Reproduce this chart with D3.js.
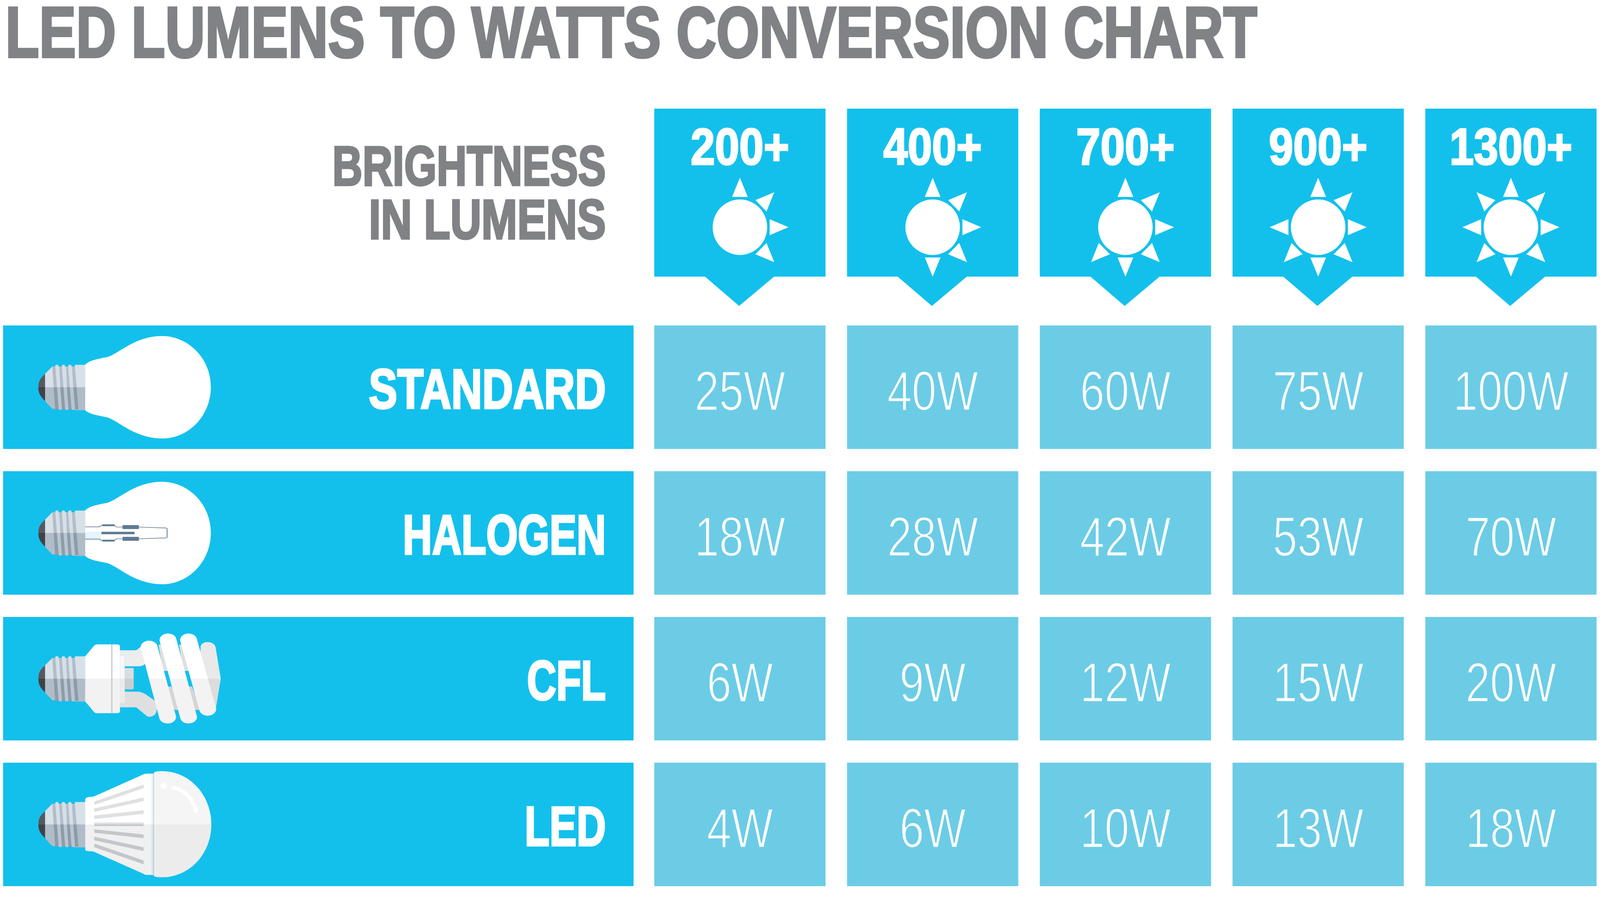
<!DOCTYPE html>
<html>
<head>
<meta charset="utf-8">
<script src="https://cdn.jsdelivr.net/npm/d3@7"></script>
<style>
	html, body { margin: 0; padding: 0; background: #fff; overflow: hidden; }
	svg { display: block; width: 100vw; height: 100vh; }
	.bold { font-family: "Liberation Sans", Arial, sans-serif; font-weight: 700; }
	.light { font-family: "Liberation Sans", Arial, sans-serif; font-weight: 400; }
</style>
</head>
<body>
<svg id="chart" viewBox="0 0 4167 2306" preserveAspectRatio="none"></svg>
<script>
var lumens = ['200+', '400+', '700+', '900+', '1300+']
var sunRays = [4, 5, 6, 7, 8]
var bulbTypes = ['STANDARD', 'HALOGEN', 'CFL', 'LED']
var standardWatts = [25, 40, 60, 75, 100]
var halogenWatts = [18, 28, 42, 53, 70]
var cflWatts = [6, 9, 12, 15, 20]
var ledWatts = [4, 6, 10, 13, 18]
var titleText = 'LED LUMENS TO WATTS CONVERSION CHART'
var axisLines = ['BRIGHTNESS', 'IN LUMENS']

var wattRows = [standardWatts, halogenWatts, cflWatts, ledWatts]

var SKY = '#13c0ec'
var CELL = '#6ccce6'
var GREY = '#808285'

var svg = d3.select('#chart')

var x = d3.scaleBand().domain(lumens).range([1704, 4158]).paddingInner(56 / 502)
var y = d3.scaleBand().domain(bulbTypes).range([833, 2268]).paddingInner(57 / 373)

var defs = svg.append('defs')
defs.append('clipPath').attr('id', 'topHalf').append('rect')
	.attr('x', 0).attr('y', -1000).attr('width', 2000).attr('height', 1000)
defs.append('clipPath').attr('id', 'bottomHalf').append('rect')
	.attr('x', 0).attr('y', 0).attr('width', 2000).attr('height', 1000)

// Condensed text: squeeze the normal font sideways so it is as wide as wanted
function squeezed(parent, txt, cls, size, fill, px, py, anchor, sx, outline) {
	return parent.append('text')
		.attr('class', cls)
		.attr('transform', 'translate(' + px + ',' + py + ') scale(' + sx + ',1)')
		.attr('text-anchor', anchor)
		.attr('font-size', size)
		.attr('fill', fill)
		.attr('stroke', fill)
		.attr('stroke-width', outline)
		.text(txt)
}

// --- Title & header --------------------------------------------------------- //

squeezed(svg, titleText, 'bold', 184, GREY, 14, 146, 'start', 0.783, 6)

axisLines.forEach(function(line, i) {
	squeezed(svg, line, 'bold', 143, GREY, 1578, [474, 611][i], 'end', [0.76, 0.785][i], 5)
})

lumens.forEach(function(l, i) {
	var cx = x(l) + x.bandwidth() / 2
	var left = x(l), right = x(l) + x.bandwidth()
	svg.append('path')
		.attr('d', 'M' + left + ',278 H' + right + ' V708 H' + (cx + 89) + ' L' + (cx - 2) + ',783 L' + (cx - 91) + ',708 H' + left + ' Z')
		.attr('fill', SKY)

	squeezed(svg, l, 'bold', 131, '#fff', cx, 421, 'middle', 0.87, 4)

	var sun = svg.append('g').attr('transform', 'translate(' + cx + ',581.5)')
	sun.append('circle').attr('r', 71).attr('fill', '#fff')
	d3.range(sunRays[i]).forEach(function(k) {
		sun.append('path')
			.attr('d', 'M0,-126.5 L20.5,-77.5 H-20.5 Z')
			.attr('transform', 'rotate(' + (k * 45) + ')')
			.attr('fill', '#fff')
	})
})

// --- Table ------------------------------------------------------------------ //

var labelRight = 1578
var labelSqueeze = [0.78, 0.74, 0.74, 0.74]

bulbTypes.forEach(function(type, r) {
	svg.append('rect')
		.attr('x', 8).attr('y', y(type))
		.attr('width', 1642).attr('height', y.bandwidth())
		.attr('fill', SKY)

	var mid = y(type) + y.bandwidth() / 2
	squeezed(svg, type, 'bold', 143, '#fff', labelRight, mid + 54, 'end', labelSqueeze[r], 5)

	lumens.forEach(function(l, c) {
		svg.append('rect')
			.attr('x', x(l)).attr('y', y(type))
			.attr('width', x.bandwidth()).attr('height', y.bandwidth())
			.attr('fill', CELL)
		// no light cut of the font here: thin it with an outline in the cell colour
		squeezed(svg, wattRows[r][c] + 'W', 'light', 142, '#fff', x(l) + x.bandwidth() / 2, mid + 59, 'middle', 0.81, 3)
			.attr('stroke', CELL)
	})

	// icons are sketched in zoomed units, with 0 on the seam of the row
	var icon = svg.append('g').attr('transform', 'translate(0,' + mid + ') scale(0.4464,0.3333)')
	if (type == 'STANDARD') { drawRoundBulb(icon) }
	if (type == 'HALOGEN') { drawRoundBulb(icon); drawFilament(icon) }
	if (type == 'CFL') { drawCfl(icon) }
	if (type == 'LED') { drawLed(icon) }
	drawScrewBase(icon)
})

// --- Bulb icons ------------------------------------------------------------- //

// Everything on the bulbs has a lit upper half and a darker lower half
function halves(g, draw) {
	[0, 1].forEach(function(i) {
		var half = g.append('g').attr('clip-path', i == 0 ? 'url(#topHalf)' : 'url(#bottomHalf)')
		draw(half, i)
	})
}

function shape(g, d, fill) {
	return g.append('path').attr('d', d).attr('fill', fill)
}

function drawScrewBase(g) {
	halves(g, function(h, i) {
		shape(h, 'M263,-103 C240,-75 224,-50 224,-10 V10 C224,50 240,75 263,107 L270,0 Z', ['#56595f', '#3f4348'][i])
		shape(h, 'M263,-103 L305,-158 H437 V-172 H497 V176 H437 V166 H305 L263,107 Z', ['#d8e1e8', '#b0bdc9'][i])
		var dark = ['#b3bdc9', '#8e9ba8'][i]
		shape(h, 'M305,-158 H325 L342,170 H322 Z', dark)
		shape(h, 'M345,-158 H362 L380,170 H360 Z', dark)
		shape(h, 'M385,-158 H398 L417,170 H397 Z', dark)
		shape(h, 'M420,-158 H437 L458,170 H432 Z', dark)
		;[[332, 352], [370, 390], [408, 428]].forEach(function(t) {
			h.append('line')
				.attr('x1', t[0]).attr('y1', -163).attr('x2', t[1]).attr('y2', 165)
				.attr('stroke', ['#d6dfe7', '#b9c6d2'][i])
				.attr('stroke-width', 19)
				.attr('stroke-linecap', 'round')
		})
	})
}

function drawRoundBulb(g) {
	shape(g, 'M497,-173 C520,-205 560,-215 625,-231 C660,-245 700,-285 740,-313 C800,-360 870,-393 945,-393 C1100,-393 1230,-220 1230,0 C1230,220 1100,394 945,394 C870,394 800,360 740,315 C700,285 665,250 625,231 C560,215 520,205 497,177 Z', '#fff')
	g.append('rect').attr('x', 497).attr('y', -1).attr('width', 733).attr('height', 2).attr('fill', '#f4f5f6')
}

function drawFilament(g) {
	var steel = '#5f7a94'
	shape(g, 'M497,-10 H590 V60 H497 Z', '#e4f5fb')
	;[-1, 1].forEach(function(s) {
		g.append('path')
			.attr('d', 'M497,' + (s * 47) + ' H580 L595,' + (s * 60) + ' H665 L680,' + (s * 45) + ' H810 L970,' + (s * 38) + ' L975,' + (s * 32) + ' V0')
			.attr('fill', 'none').attr('stroke', '#6d8299').attr('stroke-width', 5)
		var top = s < 0 ? -60 : 30
		g.append('rect').attr('x', 715).attr('y', top).attr('width', 95).attr('height', 30).attr('fill', steel)
		g.append('rect').attr('x', 597).attr('y', s < 0 ? -66 : 52).attr('width', 71).attr('height', 14).attr('fill', steel)
	})
	g.append('rect').attr('x', 592).attr('y', -9).attr('width', 193).attr('height', 19).attr('fill', steel)
}

function drawCfl(g) {
	// tubes behind the spiral
	shape(g, 'M700,-218 H795 L840,-265 L880,-200 L848,-115 Q835,-97 810,-95 H728 V-175 H700 Z', '#ededee')
	shape(g, 'M700,100 H810 Q830,105 850,120 L915,180 V230 Q915,260 900,280 Q870,305 850,280 L795,220 H700 Z', '#dfdfe0')
	halves(g, function(h, i) {
		h.append('rect').attr('x', 728).attr('y', -82).attr('width', 52).attr('height', 164).attr('rx', 8)
			.attr('fill', ['#dcdcdd', '#cdcdce'][i])
		shape(h, 'M1170,-240 C1170,-295 1250,-295 1258,-240 L1288,0 L1258,240 C1250,295 1170,295 1170,240 Z', ['#e9e9ea', '#dcdcdd'][i])
		var fold = ['#dfdfe0', '#d5d5d6'][i]
		shape(h, 'M925,-262 H1010 V-110 L982,-60 L950,-60 Z', fold)
		shape(h, 'M1045,-262 H1130 V-110 L1100,-60 L1070,-60 Z', fold)
		shape(h, 'M982,60 L1000,60 L1060,240 L1020,240 L960,100 Z', fold)
		shape(h, 'M1098,60 L1120,60 L1175,240 L1135,240 L1080,100 Z', fold)
		;[[870, -243, 978, 295], [980, -298, 1100, 295], [1100, -298, 1212, 235]].forEach(function(t) {
			h.append('line')
				.attr('x1', t[0]).attr('y1', t[1]).attr('x2', t[2]).attr('y2', t[3])
				.attr('stroke', ['#fff', '#f3f3f4'][i])
				.attr('stroke-width', 98)
				.attr('stroke-linecap', 'round')
		})
		h.append('rect').attr('x', 700).attr('y', -175).attr('width', 28).attr('height', 360)
			.attr('fill', ['#f8f8f8', '#ebebec'][i])
		shape(h, 'M497,-172 L550,-255 Q556,-263 570,-263 H683 Q700,-263 700,-245 V250 Q700,265 683,265 H570 Q556,265 550,258 L497,175 Z', ['#fff', '#f2f2f3'][i])
		h.append('rect').attr('x', 649).attr('y', -263).attr('width', 7).attr('height', 528)
			.attr('fill', '#c6c8ca')
	})
}

function drawLed(g) {
	var fins = [
		[-176, -306, -149, -278],
		[-123, -206, -96, -179],
		[-69, -109, -41, -81],
		[-15, -15, 12, 12],
		[37, 77, 64, 106],
		[94, 176, 122, 204],
		[147, 277, 175, 306]
	]
	halves(g, function(h, i) {
		shape(h, 'M497,-190 Q497,-205 515,-210 L545,-213 L840,-386 Q850,-390 860,-390 H895 V388 H860 Q845,388 835,378 L545,208 L515,205 Q497,205 497,190 Z', ['#fff', '#f0f0f1'][i])
		fins.forEach(function(f) {
			shape(h, 'M550,' + f[0] + ' L838,' + f[1] + ' V' + f[3] + ' L550,' + f[2] + ' Z', ['#dfe0e1', '#c3c7cb'][i])
		})
		h.append('rect').attr('x', 884).attr('y', -390).attr('width', 10).attr('height', 778)
			.attr('fill', ['#efefef', '#e1e1e2'][i])
		shape(h, 'M897,-395 Q900,-409 945,-409 C1110,-409 1233,-220 1233,0 C1233,220 1110,406 945,406 Q900,406 897,392 Z', ['#f5f5f5', '#ececed'][i])
	})
	g.append('ellipse').attr('cx', 955).attr('cy', -296).attr('rx', 18).attr('ry', 24).attr('fill', '#fff')
	g.append('path')
		.attr('d', 'M1013,-283 C1080,-260 1125,-200 1143,-103')
		.attr('fill', 'none').attr('stroke', '#fff').attr('stroke-width', 26).attr('stroke-linecap', 'round')
}
</script>
</body>
</html>
